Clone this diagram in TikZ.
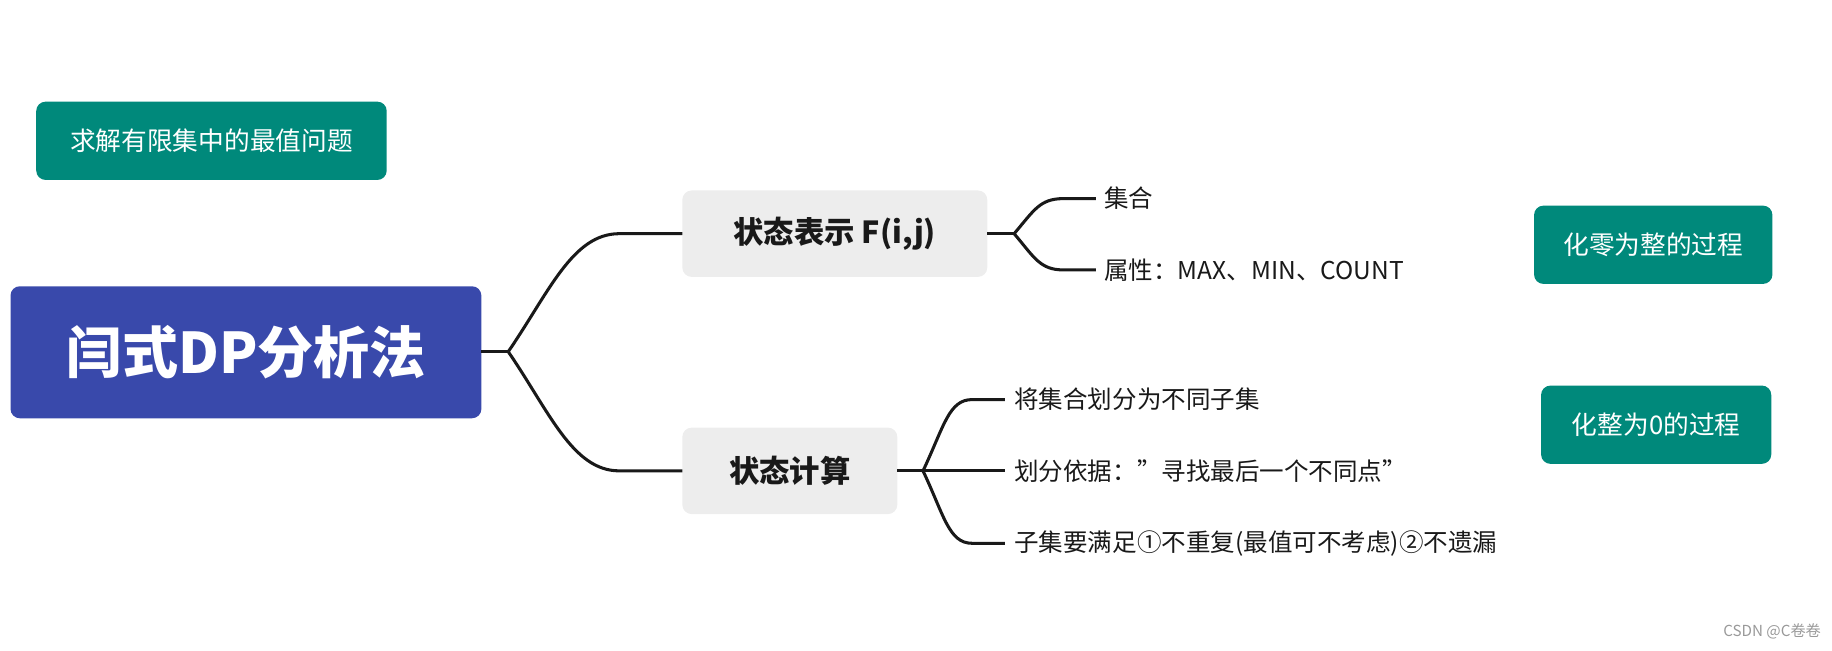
\documentclass[tikz,border=0pt]{standalone}
\usepackage{fontspec}
\setmainfont{Noto Sans CJK SC}
\begin{document}
\begin{tikzpicture}[x=1pt,y=-1pt,
  green/.style={fill=teal!80!black,rounded corners=8pt,text=white,font=\fontsize{22}{26}\selectfont},
  gray/.style={fill=black!7,rounded corners=8pt,font=\fontsize{26}{30}\selectfont\bfseries,text=black!90},
  leaf/.style={anchor=west,font=\fontsize{21}{25}\selectfont,text=black!90,inner sep=0pt},
  conn/.style={draw=black!90,line width=2.6pt}]
\definecolor{tealc}{HTML}{00897B}
\definecolor{bluec}{HTML}{3949AB}
\useasboundingbox (0,0) rectangle (1568,557);
\fill[bluec,rounded corners=8pt] (9,245) rectangle (412,358);
\node[text=white,font=\fontsize{48}{56}\selectfont\bfseries] (main) at (210.5,301.5) {闫式DP分析法};
\fill[tealc,rounded corners=8pt] (31,87) rectangle (331,154);
\node[text=white,font=\fontsize{22}{26}\selectfont] (t1) at (181,120.5) {求解有限集中的最值问题};
\fill[tealc,rounded corners=8pt] (1313,176) rectangle (1517,243);
\node[text=white,font=\fontsize{22}{26}\selectfont] (t2) at (1415,209.5) {化零为整的过程};
\fill[tealc,rounded corners=8pt] (1319,330) rectangle (1516,397);
\node[text=white,font=\fontsize{22}{26}\selectfont] (t3) at (1417.5,363.5) {化整为0的过程};
\fill[black!7,rounded corners=8pt] (584,163) rectangle (845,237);
\node[font=\fontsize{26}{30}\selectfont\bfseries,text=black!90] (s1) at (714.5,200) {状态表示 F(i,j)};
\fill[black!7,rounded corners=8pt] (584,366) rectangle (768,440);
\node[font=\fontsize{26}{30}\selectfont\bfseries,text=black!90] (s2) at (676,403) {状态计算};
\coordinate (m) at (412,301);
\coordinate (mj) at (435,301);
\draw[conn] (m) -- (mj);
\draw[conn] (mj) .. controls (470,250) and (490,200) .. (530,200) -- (584,200);
\draw[conn] (mj) .. controls (470,352) and (490,403) .. (530,403) -- (584,403);
\node[leaf] (a1) at (945,170) {集合};
\node[leaf] (a2) at (945,231) {属性：MAX、MIN、COUNT};
\coordinate (j1) at (868,200);
\draw[conn] (845,200) -- (j1);
\draw[conn] (j1) .. controls (885,180) and (890,170) .. (910,170) -- (938,170);
\draw[conn] (j1) .. controls (885,220) and (890,231) .. (910,231) -- (938,231);
\node[leaf] (b1) at (868,342) {将集合划分为不同子集};
\node[leaf] (b2) at (868,403) {划分依据："寻找最后一个不同点"};
\node[leaf] (b3) at (868,465) {子集要满足①不重复(最值可不考虑)②不遗漏};
\coordinate (j2) at (790,403);
\draw[conn] (768,403) -- (860,403);
\draw[conn] (j2) .. controls (808,365) and (812,342) .. (832,342) -- (860,342);
\draw[conn] (j2) .. controls (808,441) and (812,465) .. (832,465) -- (860,465);
\node[anchor=east,text=black!40,font=\fontsize{13}{15}\selectfont] (w) at (1562,540) {CSDN @C卷卷};
\end{tikzpicture}
\end{document}
